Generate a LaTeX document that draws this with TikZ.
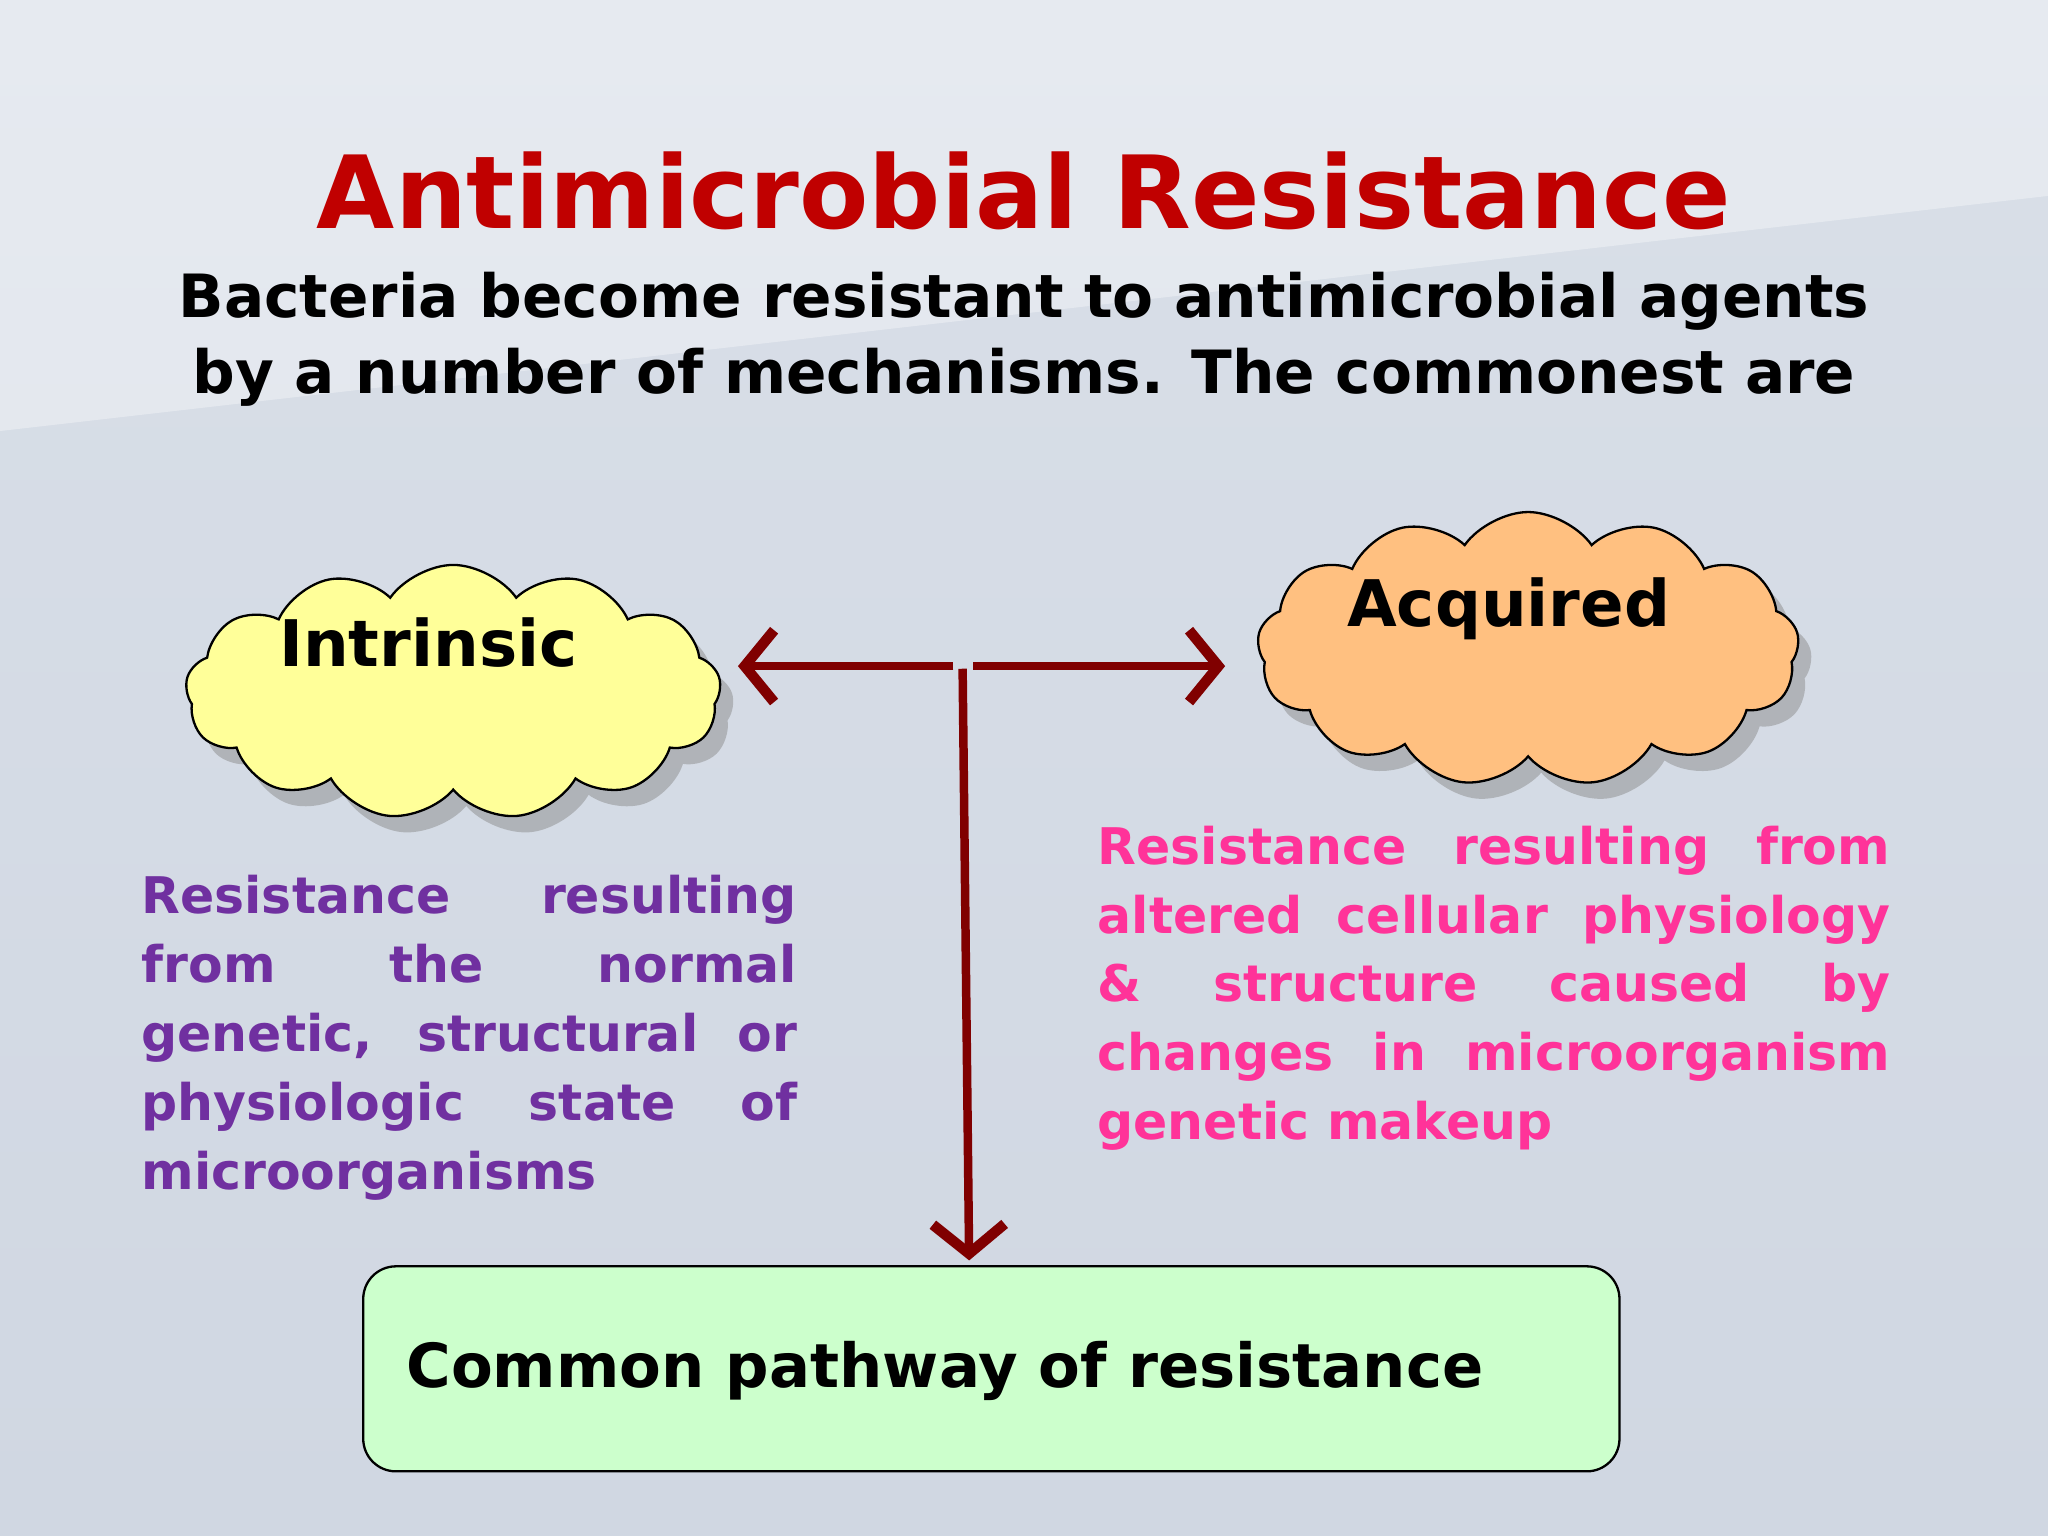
\documentclass[tikz,border=0pt]{standalone}
\usepackage{fontspec}
\setmainfont{DejaVu Sans}
\usetikzlibrary{shapes.symbols,shadows,arrows.meta}
\hyphenpenalty=10000
\exhyphenpenalty=10000
\definecolor{bgA}{HTML}{D0D7E2}
\definecolor{bgB}{HTML}{D9DFE8}
\definecolor{titlered}{HTML}{C00000}
\definecolor{arr}{HTML}{800000}
\definecolor{purp}{HTML}{7030A0}
\definecolor{pinkt}{HTML}{FF3399}
\definecolor{yel}{HTML}{FFFF99}
\definecolor{ora}{HTML}{FFC080}
\definecolor{grn}{HTML}{CCFFCC}
\tikzset{
  cloudbox/.style={cloud, cloud puffs=13, cloud puff arc=110, aspect=2.2, draw=black, line width=1pt, drop shadow={shadow xshift=0.2cm,shadow yshift=-0.25cm,fill=black!45}},
  conn/.style={draw=arr, line width=0.13cm, -{Straight Barb[length=0.45cm,width=1.1cm,line width=0.16cm]}},
  bodytext/.style={font=\bfseries\fontsize{22}{30}\selectfont, align=justify, anchor=north west, inner sep=0pt}
}
\begin{document}
\begin{tikzpicture}[x=0.02cm,y=-0.02cm]
\useasboundingbox (0,0) rectangle (1568,1176);
\shade[top color=bgB,bottom color=bgA] (0,0) rectangle (1568,1176);
\fill[white,opacity=0.35] (0,0) -- (1568,0) -- (1568,150) -- (0,330) -- cycle;
\node[font=\bfseries\fontsize{44}{52}\selectfont, text=titlered] (title) at (784,146) {Antimicrobial Resistance};
\node[font=\bfseries\fontsize{26}{33}\selectfont, align=center] (sub) at (784,260) {Bacteria become resistant to antimicrobial agents\\by a number of mechanisms. The commonest are};
\node[cloudbox, fill=yel, minimum width=8.2cm, minimum height=3.9cm] (intr) at (347,530) {};
\node[font=\bfseries\fontsize{28}{32}\selectfont] (intrt) at (328,492) {Intrinsic};
\node[cloudbox, fill=ora, minimum width=8.3cm, minimum height=4.2cm] (acq) at (1170,497) {};
\node[font=\bfseries\fontsize{28}{32}\selectfont] (acqt) at (1155,466) {Acquired};
\coordinate (jl) at (730,510);
\coordinate (jr) at (745,510);
\coordinate (jt) at (737,512);
\coordinate (la) at (565,510);
\coordinate (ra) at (938,510);
\coordinate (da) at (742,965);
\draw[conn] (jl) -- (la);
\draw[conn] (jr) -- (ra);
\draw[conn] (jt) -- (da);
\node[bodytext, text=purp, text width=10.04cm] (lt) at (108,670) {Resistance resulting from the normal genetic, structural or physiologic state of microorganisms};
\node[bodytext, text=pinkt, text width=12.14cm] (rt) at (840,632) {Resistance resulting from altered cellular physiology \& structure caused by changes in microorganism genetic makeup};
\node[draw=black, line width=1pt, fill=grn, rounded corners=0.5cm, minimum width=19.24cm, minimum height=3.14cm] (box) at (759,1048) {};
\node[font=\bfseries\fontsize{26.5}{32}\selectfont, anchor=west] (boxt) at (305,1050) {Common pathway of resistance};
\end{tikzpicture}
\end{document}
